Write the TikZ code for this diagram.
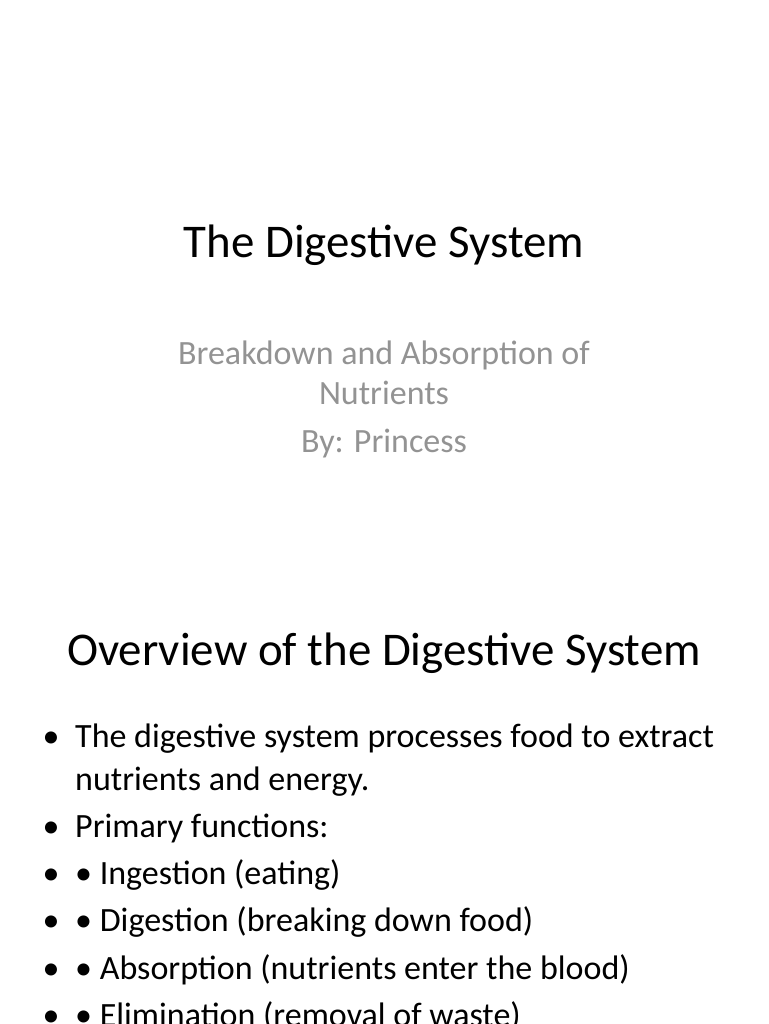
\documentclass[tikz,border=0pt]{standalone}
\usepackage{fontspec}
\setmainfont{Carlito}
\begin{document}
\begin{tikzpicture}[x=1pt,y=-1pt,
  ttl/.style={anchor=base,inner sep=0pt,font=\fontsize{46.9}{52}\selectfont},
  sub/.style={anchor=base,inner sep=0pt,text=gray!85,font=\fontsize{34}{40}\selectfont},
  blt/.style={anchor=base west,inner sep=0pt,font=\fontsize{34}{40}\selectfont},
  dot/.style={anchor=base,inner sep=0pt,font=\fontsize{34}{40}\selectfont}]
\useasboundingbox[fill=white] (0,0) rectangle (768,1024);
\node[ttl] (t1) at (384,258) {The Digestive System};
\node[sub] (s1) at (384,364) {Breakdown and Absorption of};
\node[sub] (s2) at (384,404) {Nutrients};
\node[sub] (s3) at (384,452) {By: Princess};
\node[ttl] (t2) at (384,665) {Overview of the Digestive System};
\foreach \y/\t [count=\i] in {747/{The digestive system processes food to extract},
  837/{Primary functions:},884/{• Ingestion (eating)},931/{• Digestion (breaking down food)},
  979/{• Absorption (nutrients enter the blood)},1026/{• Elimination (removal of waste)}}{
  \node[dot] (d\i) at (51,\y) {•};
  \node[blt] (b\i) at (75,\y) {\t};
}
\node[blt] (b1b) at (75,790) {nutrients and energy.};
\end{tikzpicture}
\end{document}
